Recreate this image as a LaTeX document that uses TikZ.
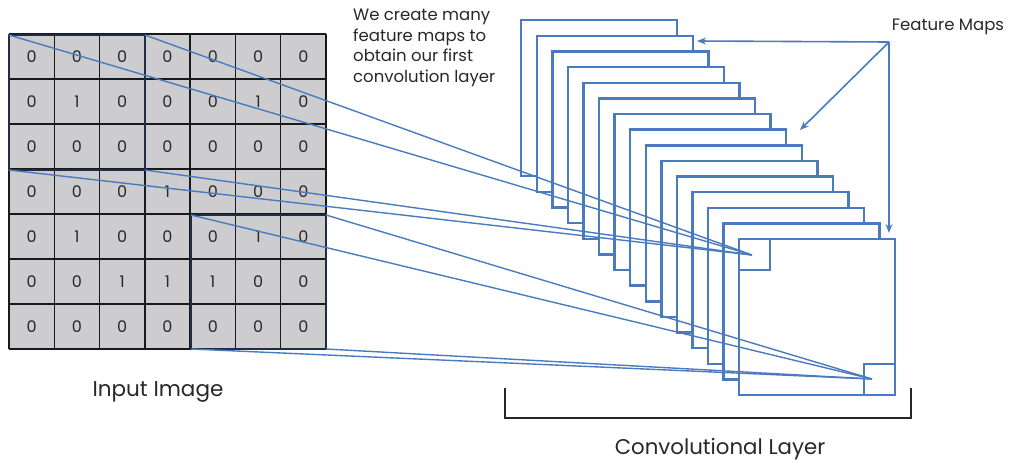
\documentclass[tikz,border=0pt]{standalone}
\usepackage{fontspec}
\setmainfont{Poppins}
\usetikzlibrary{arrows.meta}
\definecolor{fmblue}{RGB}{74,123,190}
\definecolor{gridgray}{RGB}{205,205,207}
\definecolor{navy}{RGB}{32,44,68}
\definecolor{txt}{RGB}{40,40,40}
\tikzset{
  fmap/.style={draw=fmblue, line width=2.4pt, fill=white, minimum width=156pt, minimum height=156pt, inner sep=0pt, anchor=north west},
  smallsq/.style={draw=fmblue, line width=2.4pt, minimum width=31pt, minimum height=31pt, inner sep=0pt, anchor=north west},
  proj/.style={draw=fmblue, line width=1.4pt},
  region/.style={draw=navy, line width=2.4pt},
  gridline/.style={draw=black!90, line width=1.3pt},
  digit/.style={font=\fontsize{16}{16}\selectfont, text=txt},
  arr/.style={draw=fmblue, line width=1.6pt, -{Stealth[length=9pt,width=7pt]}},
  label/.style={text=txt}
}
\begin{document}
\begin{tikzpicture}[x=1pt,y=-1pt]
\useasboundingbox (0,0) rectangle (1009,467);
% input grid
\fill[gridgray] (9,34) rectangle (326,349);
\foreach \xx in {9,54.3,99.6,144.9,190.1,235.4,280.7,326} \draw[gridline] (\xx,34) -- (\xx,349);
\foreach \yy in {34,79,124,169,214,259,304,349} \draw[gridline] (9,\yy) -- (326,\yy);
\foreach \row [count=\r] in {{0,0,0,0,0,0,0},{0,1,0,0,0,1,0},{0,0,0,0,0,0,0},{0,0,0,1,0,0,0},{0,1,0,0,0,1,0},{0,0,1,1,1,0,0},{0,0,0,0,0,0,0}}{
  \foreach \v [count=\c] in \row {
    \node[digit] (d\r-\c) at ({9+(\c-0.5)*45.29},{34+(\r-0.5)*45}) {\v};
  }
}
% highlighted regions
\coordinate (a1) at (9,35);
\coordinate (a2) at (145,35);
\coordinate (a3) at (9,170);
\coordinate (a4) at (145,170);
\coordinate (b1) at (191,215);
\coordinate (b2) at (326,215);
\coordinate (b3) at (191,349);
\coordinate (b4) at (326,349);
\draw[region] (a1) rectangle (a4);
\draw[region] (b1) rectangle (b4);
% feature maps
\foreach \i in {0,...,14}{
  \node[fmap] (fm\i) at ({520+\i*15.57},{19+\i*15.64}) {};
}
\node[smallsq] (s1) at (fm14.north west) {};
\node[smallsq, anchor=south east] (s2) at (fm14.south east) {};
% projection lines
\coordinate (p1) at (752,255);
\coordinate (p2) at (872,379);
\foreach \c in {a1,a2,a3,a4} \draw[proj] (\c) -- (p1);
\foreach \c in {b1,b2,b3,b4} \draw[proj] (\c) -- (p2);
% labels
\node[label, anchor=north west, align=left, font=\fontsize{16.5}{20.5}\selectfont, inner sep=0pt] (note) at (353,9) {We create many\\feature maps to\\obtain our first\\convolution layer};
\node[label, font=\fontsize{16.5}{16.5}\selectfont] (fmlabel) at (948,27) {Feature Maps};
\coordinate (src) at (889,42);
\coordinate (t1) at (697,41);
\coordinate (t2) at (800,130);
\coordinate (t3) at (889,233);
\draw[arr] (src) -- (t1);
\draw[arr] (src) -- (t2);
\draw[arr] (src) -- (t3);
\node[label, font=\fontsize{21.5}{21.5}\selectfont] (inlabel) at (158,392) {Input Image};
\coordinate (k1) at (505,388);
\coordinate (k2) at (505,418);
\coordinate (k3) at (911,418);
\coordinate (k4) at (911,388);
\draw[black!85, line width=1.8pt] (k1) -- (k2) -- (k3) -- (k4);
\node[label, font=\fontsize{21.3}{21.3}\selectfont] (convlabel) at (720,449) {Convolutional Layer};
\end{tikzpicture}
\end{document}
